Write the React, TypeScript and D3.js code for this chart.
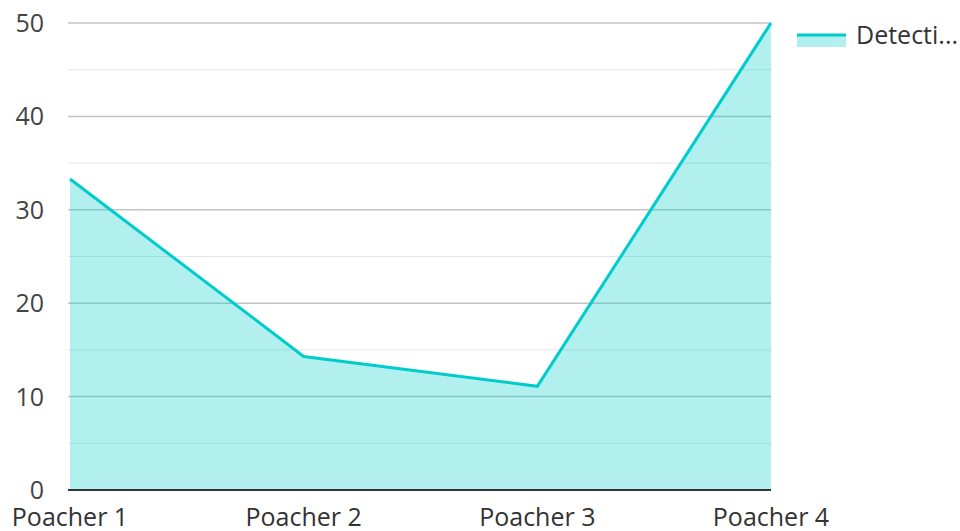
import * as d3 from "d3";

const categories = ["Poacher 1", "Poacher 2", "Poacher 3", "Poacher 4"];
const detections = [33.3, 14.3, 11.1, 50];
const seriesName = "Detecti...";
const yTicks = [0, 10, 20, 30, 40, 50];
const minorTicks = [5, 15, 25, 35, 45];

const W = 960;
const H = 531;
const left = 70;
const right = 771;
const top = 23;
const bottom = 490;
const teal = "#00cccc";
const font = "'Open Sans', sans-serif";

export default function App() {
  const x = d3.scalePoint<string>().domain(categories).range([left, right]);
  const y = d3.scaleLinear().domain([0, 50]).range([bottom, top]);

  const pts = categories.map((c, i) => [x(c)!, y(detections[i])] as [number, number]);
  const line = d3.line()(pts) || "";
  const area =
    d3
      .area<[number, number]>()
      .x((d) => d[0])
      .y0(y(0))
      .y1((d) => d[1])(pts) || "";

  return (
    <svg
      width={W}
      height={H}
      style={{ position: "absolute", left: 0, top: 0, display: "block" }}
      fontFamily={font}
    >
      {minorTicks.map((t) => (
        <line key={"m" + t} x1={68} x2={right} y1={y(t)} y2={y(t)} stroke="#e6e6e6" strokeWidth={1} />
      ))}
      {yTicks.filter((t) => t > 0).map((t) => (
        <line key={"g" + t} x1={68} x2={right} y1={y(t)} y2={y(t)} stroke="#c4c4c4" strokeWidth={1.5} />
      ))}
      <path d={area} fill={teal} fillOpacity={0.3} />
      <path d={line} fill="none" stroke={teal} strokeWidth={3} />
      <line x1={68} x2={right} y1={y(0)} y2={y(0)} stroke="#333" strokeWidth={2} />
      {yTicks.map((t) => (
        <text key={"t" + t} x={44} y={y(t)} dy="0.36em" textAnchor="end" fontSize={25} fill="#444">
          {t}
        </text>
      ))}
      {categories.map((c) => (
        <text key={c} x={x(c)} y={526} textAnchor="middle" fontSize={25} fill="#333">
          {c}
        </text>
      ))}
      <rect x={797} y={35} width={49} height={12} fill={teal} fillOpacity={0.3} />
      <line x1={797} x2={846} y1={35} y2={35} stroke={teal} strokeWidth={3} />
      <text x={856} y={44} fontSize={25} fill="#333">
        {seriesName}
      </text>
    </svg>
  );
}
